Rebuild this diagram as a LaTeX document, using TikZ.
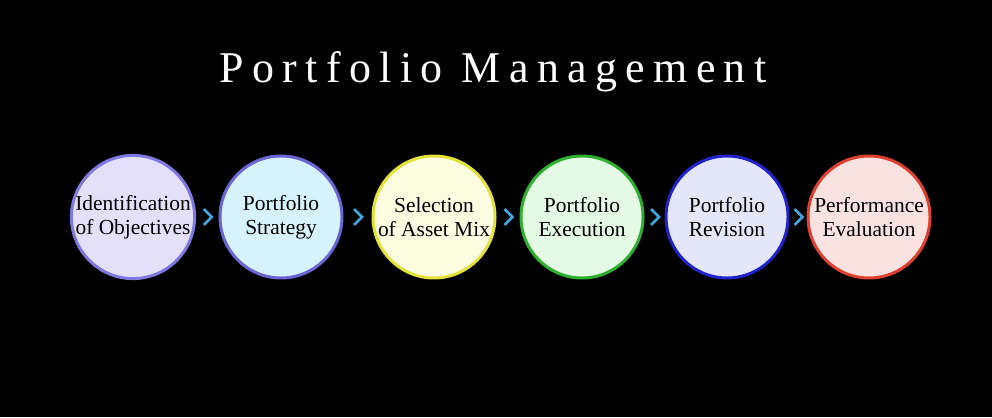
\documentclass[tikz,border=0pt]{standalone}
\usepackage{fontspec}
\setmainfont{Liberation Serif}
\usepackage{tikz}
\usetikzlibrary{calc}
\usepackage{xcolor}
\definecolor{chevblue}{HTML}{3FA6E0}
\definecolor{identfill}{HTML}{E4E0FA}
\definecolor{identline}{HTML}{8078E0}
\definecolor{stratfill}{HTML}{D6F2FA}
\definecolor{stratline}{HTML}{6A64D4}
\definecolor{mixfill}{HTML}{FCFCE0}
\definecolor{mixline}{HTML}{E2E23A}
\definecolor{execfill}{HTML}{E4FAE4}
\definecolor{execline}{HTML}{2EB02E}
\definecolor{revfill}{HTML}{E4E6FA}
\definecolor{revline}{HTML}{2222CC}
\definecolor{perffill}{HTML}{FAE2E0}
\definecolor{perfline}{HTML}{DE4030}
\tikzset{
  stage/.style 2 args={circle, draw=#1, fill=#2, line width=1.7pt, minimum size=2.44cm,
    inner sep=0pt, align=center, text=black, font=\fontsize{12.2}{13.6}\selectfont},
  chevron/.style={draw=chevblue, line width=1.5pt}
}
\newcommand\stagechevron[2]{
  \draw[chevron] ($(#1.east)!0.5!(#2.west)$) ++(-0.07cm, 0.16cm) -- ++(0.16cm, -0.16cm) -- ++(-0.16cm, -0.16cm);
}

\begin{document}
\begin{tikzpicture}
    \fill[black] (0cm, 0cm) rectangle (19.84cm, 8.34cm);
    \useasboundingbox (0cm, 0cm) rectangle (19.84cm, 8.34cm);

    \node[text=white, font=\fontsize{25}{30}\selectfont\addfontfeature{LetterSpace=19}] (title) at (9.86cm, 6.9cm) {Portfolio Management};

    \node[stage={identline}{identfill}] (ident) at (2.66cm, 4.0cm) {Identification\\of Objectives};
    \node[stage={stratline}{stratfill}] (strat) at (5.62cm, 4.0cm) {Portfolio\\Strategy};
    \node[stage={mixline}{mixfill}] (mix) at (8.68cm, 4.0cm) {Selection\\of Asset Mix};
    \node[stage={execline}{execfill}] (exec) at (11.64cm, 4.0cm) {Portfolio\\Execution};
    \node[stage={revline}{revfill}] (rev) at (14.54cm, 4.0cm) {Portfolio\\Revision};
    \node[stage={perfline}{perffill}] (perf) at (17.38cm, 4.0cm) {Performance\\Evaluation};

    \stagechevron{ident}{strat}
    \stagechevron{strat}{mix}
    \stagechevron{mix}{exec}
    \stagechevron{exec}{rev}
    \stagechevron{rev}{perf}
\end{tikzpicture}
\end{document}
